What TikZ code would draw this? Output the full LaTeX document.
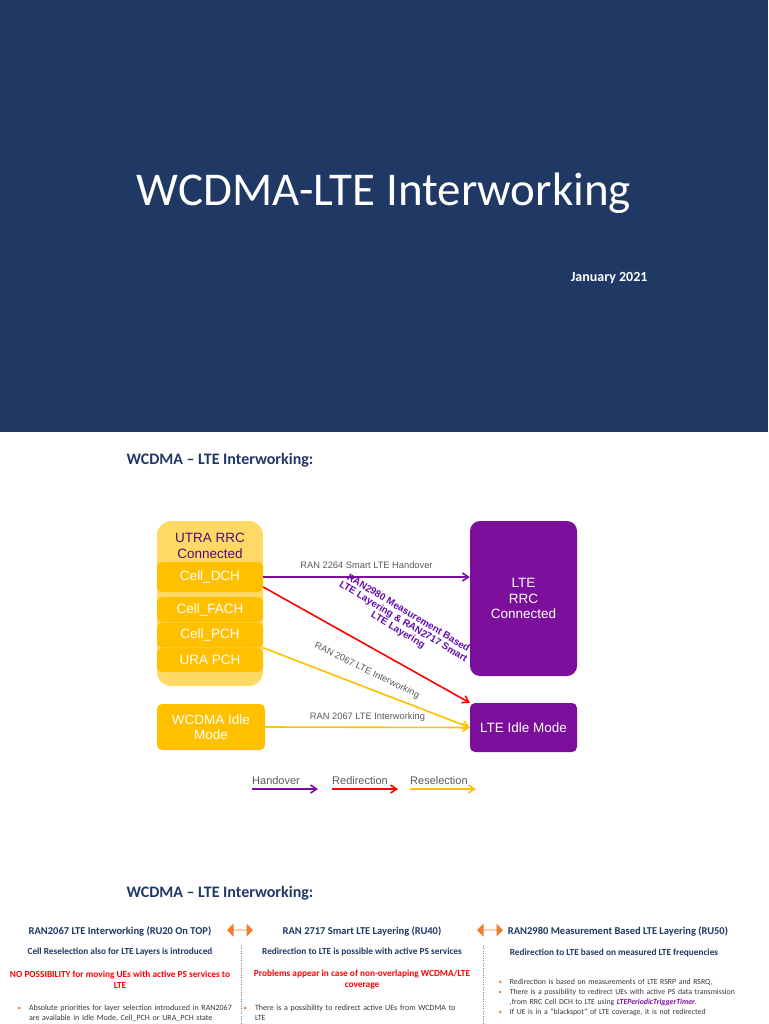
\documentclass[tikz,border=0pt]{standalone}
\usepackage{fontspec}
\setmainfont{Carlito}
\newfontfamily\arialf{Liberation Sans}
\usetikzlibrary{arrows.meta,shapes.arrows}
\definecolor{navy}{HTML}{203864}
\definecolor{gold}{HTML}{FFC000}
\definecolor{lgold}{HTML}{FFD966}
\definecolor{purp}{HTML}{7B0F9B}
\definecolor{ttl}{HTML}{1F3864}
\definecolor{grytxt}{HTML}{595959}
\definecolor{org}{HTML}{ED7D31}
\newcommand{\obul}{\textcolor{org}{\scriptsize\textbullet}}
\begin{document}
\begin{tikzpicture}[x=1pt,y=-1pt,
 box/.style={draw=none,rounded corners=5pt,fill=gold,text=white,font=\arialf\fontsize{13.5}{15.5}\selectfont,align=center,inner sep=0},
 lbl/.style={font=\arialf\fontsize{9.3}{11}\selectfont,text=grytxt},
 ar/.style={line width=1.6pt,-{Straight Barb[length=6pt,width=8pt]}},
 sec/.style={font=\bfseries\fontsize{16}{19}\selectfont,text=ttl,anchor=west},
 small/.style={font=\fontsize{7}{8.5}\selectfont,align=center},
 tiny/.style={font=\fontsize{8}{10}\selectfont,align=left,anchor=north west,text=grytxt!60!black},
 darr/.style={double arrow,fill=org,minimum width=13pt,minimum height=26pt,double arrow head extend=3pt,inner sep=0}]
\useasboundingbox (0,0) rectangle (768,1024);
\fill[navy] (0,0) rectangle (768,432);
\node[text=white,font=\fontsize{47}{54}\selectfont] (title) at (384,193) {WCDMA-LTE Interworking};
\node[text=white,font=\bfseries\fontsize{14}{16}\selectfont,anchor=east] (date) at (651,278) {January 2021};
\node[sec] (s1) at (123,460) {WCDMA -- LTE Interworking:};
\node[sec] (s2) at (123,893) {WCDMA -- LTE Interworking:};
% diagram
\node[box,fill=lgold,minimum width=106pt,minimum height=165pt,rounded corners=14pt] (utra) at (210,603.5) {};
\node[font=\arialf\fontsize{13.5}{15.5}\selectfont,text=purp!70!black,align=center] (utrat) at (210,546) {UTRA RRC\\Connected};
\node[box,minimum width=106pt,minimum height=30pt] (dch) at (210,577) {Cell\_DCH};
\node[box,minimum width=106pt,minimum height=25pt] (fach) at (210,609.5) {Cell\_FACH};
\node[box,minimum width=106pt,minimum height=25pt] (pch) at (210,635) {Cell\_PCH};
\node[box,minimum width=106pt,minimum height=24pt] (ura) at (210,660) {URA PCH};
\node[box,minimum width=108pt,minimum height=46pt] (idle) at (211,727) {WCDMA Idle\\Mode};
\node[box,fill=purp,minimum width=107pt,minimum height=155pt,rounded corners=10pt] (lrrc) at (523.5,598.5) {LTE\\RRC\\Connected};
\node[box,fill=purp,minimum width=107pt,minimum height=49pt] (lidle) at (523.5,727.5) {LTE Idle Mode};
\draw[ar,purp] (dch.east) -- (lrrc.west|-dch.east) node[midway,above=4pt,lbl] {RAN 2264 Smart LTE Handover};
\draw[ar,red] (dch.east)++(0,10) coordinate (r0) -- (lidle.north west);
\draw[ar,gold] (ura.north east) -- (lidle.west);
\draw[ar,gold] (idle.east) -- (lidle.west) node[midway,above=2pt,lbl] {RAN 2067 LTE Interworking};
\node[lbl,rotate=-26] (l2067) at (367,671) {RAN 2067 LTE Interworking};
\node[rotate=-31,font=\arialf\bfseries\fontsize{9.8}{10}\selectfont,text=purp!80!blue,align=center] (l2980) at (403,622) {RAN2980 Measurement Based\\LTE Layering \& RAN2717 Smart\\LTE Layering};
% legend
\coordinate (h0) at (252,789); \coordinate (h1) at (318,789);
\coordinate (d0) at (332,789); \coordinate (d1) at (398,789);
\coordinate (e0) at (410,789); \coordinate (e1) at (476,789);
\draw[ar,purp] (h0) -- (h1); \draw[ar,red] (d0) -- (d1); \draw[ar,gold] (e0) -- (e1);
\node[lbl,font=\arialf\fontsize{11}{12}\selectfont,anchor=west,inner sep=0] (lh) at (252,781) {Handover};
\node[lbl,font=\arialf\fontsize{11}{12}\selectfont,anchor=west,inner sep=0] (ld) at (332,781) {Redirection};
\node[lbl,font=\arialf\fontsize{11}{12}\selectfont,anchor=west,inner sep=0] (le) at (410,781) {Reselection};
% table
\node[darr] (da1) at (240,930) {};
\node[darr] (da2) at (490,930) {};
\draw[dotted,gray] (241,946) -- (241,1024);
\draw[dotted,gray] (483,946) -- (483,1024);
\node[small,font=\bfseries\fontsize{10.5}{12}\selectfont,text=ttl] (c1h) at (120,931) {RAN2067 LTE Interworking (RU20 On TOP)};
\node[small,font=\bfseries\fontsize{10.5}{12}\selectfont,text=ttl] (c2h) at (362,931) {RAN 2717 Smart LTE Layering (RU40)};
\node[small,font=\bfseries\fontsize{10.5}{12}\selectfont,text=ttl] (c3h) at (618,931) {RAN2980 Measurement Based LTE Layering (RU50)};
\node[small,font=\bfseries\fontsize{9.3}{11}\selectfont,text=ttl] (c1a) at (120,952) {Cell Reselection also for LTE Layers is introduced};
\node[small,font=\bfseries\fontsize{9.3}{11}\selectfont,text=ttl] (c2a) at (362,952) {Redirection to LTE is possible with active PS services};
\node[small,font=\bfseries\fontsize{9.3}{11}\selectfont,text=ttl] (c3a) at (614,953) {Redirection to LTE based on measured LTE frequencies};
\node[small,font=\bfseries\fontsize{9.3}{11}\selectfont,text=red] (c1b) at (120,980) {NO POSSIBILITY for moving UEs with active PS services to\\LTE};
\node[small,font=\bfseries\fontsize{9.3}{11}\selectfont,text=red] (c2b) at (362,980) {Problems appear in case of non-overlaping WCDMA/LTE\\coverage};
\node[tiny,text width=226pt] (c1c) at (14,1001) {\obul\quad Absolute priorities for layer selection introduced in RAN2067\\\phantom{\obul}\quad are available in Idle Mode, Cell\_PCH or URA\_PCH state};
\node[tiny,text width=236pt] (c2c) at (240,1001) {\obul\quad There is a possibility to redirect active UEs from WCDMA to\\\phantom{\obul}\quad LTE};
\node[tiny,text width=290pt,font=\fontsize{7.8}{9.7}\selectfont] (c3c) at (495,976) {\obul\quad Redirection is based on measurements of LTE RSRP and RSRQ,\\\obul\quad There is a possibility to redirect UEs with active PS data transmission\\\phantom{\obul}\quad ,from RRC Cell DCH to LTE using \textcolor{purp}{\textbf{\textit{LTEPeriodicTriggerTimer}}}.\\\obul\quad If UE is in a ``blackspot'' of LTE coverage, it is not redirected};
\end{tikzpicture}
\end{document}
